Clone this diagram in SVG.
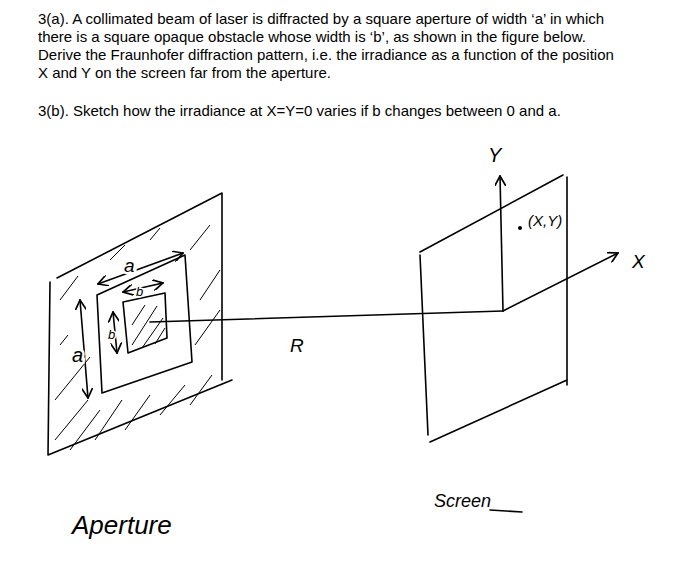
<svg xmlns="http://www.w3.org/2000/svg" width="699" height="573" viewBox="0 0 699 573">
<style>
.t{font-family:"Liberation Sans",Arial,sans-serif;font-size:15px;fill:#000}
.h{font-family:"Liberation Sans",Arial,sans-serif;fill:#000;font-style:italic}
.s{fill:none;stroke:#000;stroke-width:1.6;stroke-linecap:round;stroke-linejoin:round}
.th{fill:none;stroke:#000;stroke-width:1}
</style>
<defs>
<marker id="ah" viewBox="0 0 10 10" refX="9" refY="5" markerWidth="7" markerHeight="7" orient="auto-start-reverse"><path d="M0,0 L9,5 L0,10" fill="none" stroke="#000" stroke-width="1.5"/></marker>
</defs>
<rect width="699" height="573" fill="#fff"/>
<text class="t" x="38" y="24">3(a). A collimated beam of laser is diffracted by a square aperture of width ‘a’ in which</text>
<text class="t" x="38" y="42">there is a square opaque obstacle whose width is ‘b’, as shown in the figure below.</text>
<text class="t" x="38" y="60">Derive the Fraunhofer diffraction pattern, i.e. the irradiance as a function of the position</text>
<text class="t" x="38" y="78">X and Y on the screen far from the aperture.</text>
<text class="t" x="38" y="116">3(b). Sketch how the irradiance at X=Y=0 varies if b changes between 0 and a.</text>
<g id="aperture">
<path class="s" d="M57,278 L222,193 L222,380 M50,282 L48,455 L232,380"/>
<path class="s" d="M97,295 L185,255 L192,362 L102,393 Z"/>
<path class="s" d="M123,302 L165,293 L167,338 L128,353 Z"/>
<g class="th">
<path d="M60,300 L78,276 M60,345 L68,335 M55,400 L90,357 M55,440 L88,400 M70,450 L100,410 M95,440 L122,400 M125,430 L150,395 M160,415 L185,385 M190,405 L212,375 M195,345 L220,310 M200,300 L220,270 M190,250 L210,225 M150,240 L160,228 M110,260 L125,245"/>
<path d="M132,325 L145,305 M132,345 L157,306 M142,348 L163,318 M155,344 L165,328"/>
</g>
<path class="s" d="M98,284 L183,253" marker-start="url(#ah)" marker-end="url(#ah)"/>
<path class="s" d="M123,292 L163,283" marker-start="url(#ah)" marker-end="url(#ah)"/>
<path class="s" d="M80,300 L88,398" marker-start="url(#ah)" marker-end="url(#ah)"/>
<path class="s" d="M113,312 L117,353" marker-start="url(#ah)" marker-end="url(#ah)"/>
<text class="h" x="124" y="272" font-size="19" fill="#fff" stroke="#fff" stroke-width="5">a</text>
<text class="h" x="124" y="272" font-size="19">a</text>
<text class="h" x="136" y="296" font-size="13" fill="#fff" stroke="#fff" stroke-width="3">b</text>
<text class="h" x="136" y="296" font-size="13">b</text>
<text class="h" x="72" y="362" font-size="20" fill="#fff" stroke="#fff" stroke-width="5">a</text>
<text class="h" x="72" y="362" font-size="20">a</text>
<text class="h" x="108" y="339" font-size="13" fill="#fff" stroke="#fff" stroke-width="3">b</text>
<text class="h" x="108" y="339" font-size="13">b</text>
<text class="h" x="72" y="534" font-size="26">Aperture</text>
</g>
<g id="screen">
<path class="s" d="M420,252 L563,175 M420,255 L428,435 M567,177 L567,385 M430,442 L567,380"/>
<circle cx="520" cy="228" r="2" fill="#000"/>
<text class="h" x="528" y="226" font-size="15">(X,Y)</text>
<text class="h" x="434" y="507" font-size="18">Screen</text>
<path class="s" d="M490,510 L522,512"/>
</g>
<g id="connectors">
<path class="s" d="M150,322 L503,311"/>
<path class="s" d="M503,311 L500,176" marker-end="url(#ah)"/>
<path class="s" d="M503,311 L618,253" marker-end="url(#ah)"/>
<text class="h" x="488" y="162" font-size="20">Y</text>
<text class="h" x="632" y="268" font-size="19">X</text>
<text class="h" x="290" y="352" font-size="19">R</text>
</g>
</svg>
